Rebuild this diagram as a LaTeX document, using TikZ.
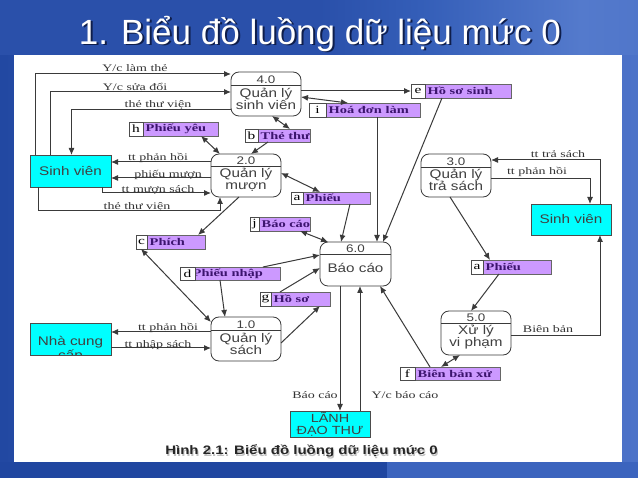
\documentclass[tikz,border=0pt]{standalone}
\usepackage{fontspec}
\usetikzlibrary{arrows.meta}
\setmainfont{Liberation Sans}
\newfontfamily\lserif[FakeStretch=1.4]{Liberation Serif}
\newfontfamily\lsans[FakeStretch=1.22]{Liberation Sans}
\definecolor{cyanbox}{HTML}{00FFFF}
\definecolor{storepurple}{HTML}{CC99FF}
\definecolor{ink}{HTML}{3A3A3A}
\definecolor{bandA}{HTML}{2A50AA}
\definecolor{bandB}{HTML}{345EB8}
\definecolor{bandC}{HTML}{547ACC}
\definecolor{bandD}{HTML}{4C72C8}
\definecolor{bandE}{HTML}{3A64C0}
\definecolor{sideL}{HTML}{2248A2}
\definecolor{sideR}{HTML}{4C72C8}
\definecolor{footL}{HTML}{2046A0}
\definecolor{footR}{HTML}{3C64BE}
\definecolor{titleshadowc}{HTML}{0F1E4B}
\definecolor{storeink}{HTML}{3C146E}
\pgfdeclarehorizontalshading{topband}{100bp}{
  color(0bp)=(bandA);
  color(25bp)=(bandA);
  color(50bp)=(bandA);
  color(58bp)=(bandB);
  color(70.5bp)=(bandC);
  color(80bp)=(bandD);
  color(84.6bp)=(bandE);
  color(100bp)=(bandE)}
\tikzset{
  x=1pt,y=-1pt,
  flow/.style={draw=ink,line width=1pt,-{Latex[length=7pt,width=6pt]}},
  flowboth/.style={draw=ink,line width=1pt,{Latex[length=7pt,width=6pt]}-{Latex[length=7pt,width=6pt]}},
  plainline/.style={draw=ink,line width=1pt},
  flowlabel/.style={font=\lserif\fontsize{10}{10}\selectfont,text=black!80,inner sep=0pt},
  boxbase/.style={inner sep=0pt,outer sep=0pt,anchor=north west},
  extbox/.style={boxbase,draw=black!70,fill=cyanbox,line width=0.8pt,align=center,font=\lsans\fontsize{12.5}{12.5}\selectfont,text=black!75},
  procbox/.style={boxbase,draw=ink,fill=white,line width=0.8pt,rounded corners=8pt},
  proctext/.style={inner sep=0pt,align=center,font=\lsans\fontsize{12.5}{12}\selectfont,text=black!75},
  procnum/.style={inner sep=0pt,font=\lsans\fontsize{11}{11}\selectfont,text=black!75},
  storebox/.style={boxbase,draw=black!60,fill=storepurple,line width=0.7pt},
  storecell/.style={boxbase,draw=black!70,fill=white,line width=0.7pt,font=\lserif\fontsize{11}{11}\selectfont},
  storetext/.style={inner sep=0pt,anchor=west,font=\lserif\bfseries\fontsize{10.3}{10}\selectfont,text=storeink},
}
% name, x1, y1, x2, y2, divider y, number, label
\newcommand\procnode[8]{%
  \node[procbox,minimum width=#4pt-#2pt,minimum height=#5pt-#3pt] (#1) at (#2,#3) {};
  \draw[plainline,line width=0.8pt] (#2,#6) -- (#4,#6);
  \node[procnum] (#1n) at ({(#2+#4)/2},{#6-5}) {#7};
  \node[proctext] (#1t) at ({(#2+#4)/2},{(#6+#5)/2-2}) {#8};
}
% name, x1, y1, x2, y2, cell x, letter, text
\newcommand\storenode[8]{%
  \node[storebox,minimum width=#4pt-#2pt,minimum height=#5pt-#3pt] (#1) at (#2,#3) {};
  \node[storetext] (#1t) at ({#6+2.5},{(#3+#5)/2}) {#8};
  \node[storecell,minimum width=#6pt-#2pt,minimum height=#5pt-#3pt] (#1c) at (#2,#3) {#7};
}
\begin{document}
\begin{tikzpicture}
\useasboundingbox (0,0) rectangle (638,478);
% slide background
\shade[left color=sideL,right color=sideR] (0,0) rectangle (638,478);
\shade[shading=topband] (0,0) rectangle (638,55);
\fill[footL] (0,462) rectangle (387,478);
\fill[footR] (387,462) rectangle (638,478);
\fill[white] (14,55) rectangle (622,462);
% title
\node[font=\fontsize{35}{35}\selectfont,text=titleshadowc,inner sep=0pt] (titleshadow) at (322,35.5) {1. Biểu đồ luồng dữ liệu mức 0};
\node[font=\fontsize{35}{35}\selectfont,text=white,inner sep=0pt] (title) at (320,34) {1. Biểu đồ luồng dữ liệu mức 0};
% external entities
\node[extbox,minimum width=81pt,minimum height=32pt] (sv1) at (30,155) {\raisebox{-3pt}{Sinh viên}};
\node[extbox,minimum width=80pt,minimum height=31pt] (sv2) at (531,204) {\raisebox{-3pt}{Sinh viên}};
\node[extbox,minimum width=81pt,minimum height=32pt] (ncc) at (30,323) {};
\node[proctext,font=\lsans\fontsize{12.5}{12.5}\selectfont] (ncct) at (70.5,342.5) {Nhà cung};
\begin{scope}
\clip (30,323) rectangle (111,355);
\node[proctext,font=\lsans\fontsize{12.5}{12.5}\selectfont] (ncct2) at (70.5,356) {cấp};
\end{scope}
\node[extbox,minimum width=80pt,minimum height=26pt,font=\lsans\fontsize{11.8}{12}\selectfont] (ld) at (290,411) {LÃNH\\ĐẠO THƯ};
% processes
\procnode{pa}{231}{72}{301}{116}{85}{4.0}{Quản lý\\sinh viên}
\procnode{pb}{211}{154}{281}{197}{166}{2.0}{Quản lý\\mượn}
\procnode{pc}{211}{317}{281}{361}{330}{1.0}{Quản lý\\sách}
\procnode{pd}{320}{242}{391}{286}{254}{6.0}{\raisebox{-4.5pt}{Báo cáo}}
\procnode{pe}{421}{154}{491}{197}{167}{3.0}{Quản lý\\trả sách}
\procnode{pf}{441}{311}{511}{355}{323}{5.0}{Xử lý\\vi phạm}
% data stores
\storenode{sh}{129}{122}{218}{136}{143}{h}{Phiếu yêu}
\storenode{sb}{245}{129}{310}{142}{258}{b}{Thẻ thư}
\storenode{se}{411}{84}{511}{98}{425}{e}{Hồ sơ sinh}
\storenode{si}{309}{103}{420}{117}{326}{i}{Hoá đơn làm}
\storenode{sa}{291}{192}{370}{204}{303}{a}{Phiếu}
\storenode{sj}{250}{217}{310}{231}{259}{j}{Báo cáo}
\storenode{sc}{136}{235}{205}{249}{147}{c}{Phích}
\storenode{sd}{180}{267}{280}{280}{195}{d}{\hspace*{-5pt}Phiếu nhập}
\storenode{sg}{260}{292}{330}{306}{271}{g}{Hồ sơ}
\storenode{sk}{471}{260}{551}{274}{483}{a}{Phiếu}
\storenode{sf}{400}{367}{500}{380}{415}{f}{Biên bản xử}
% flows: Sinh vien <-> 4.0
\coordinate (pa1) at (pa.west |- 0,74);
\draw[flow] ([xshift=5pt]sv1.north west) |- (pa1);
\coordinate (pa2) at (pa.west |- 0,92);
\draw[flow] ([xshift=20.5pt]sv1.north west) |- (pa2);
\coordinate (pa3) at (pa.west |- 0,110);
\draw[flow] (pa3) -| ([xshift=41.5pt]sv1.north west);
\node[flowlabel] (l1) at (135,68) {Y/c làm thẻ};
\node[flowlabel] (l2) at (135,87) {Y/c sửa đổi};
\node[flowlabel] (l3) at (158,105) {thẻ thư viện};
% Sinh vien <-> 2.0
\draw[flow] (pb.west |- 0,162) -- (sv1.east |- 0,162);
\draw[flow] (pb.west |- 0,178) -- (sv1.east |- 0,178);
\coordinate (pb3) at (pb.west |- 0,193);
\draw[flow] ([xshift=-8.5pt]sv1.south east) |- (pb3);
\coordinate (b4) at (220,211);
\draw[plainline] ([xshift=8.5pt]sv1.south west) |- (b4);
\draw[flow] (b4) -- (b4 |- pb.south);
\node[flowlabel] (l4) at (158,158) {tt phản hồi};
\node[flowlabel] (l5) at (168,175) {phiếu mượn};
\node[flowlabel] (l6) at (158,190) {tt mượn sách};
\node[flowlabel] (l7) at (137,207) {thẻ thư viện};
% stores <-> processes
\draw[flowboth] ([xshift=41pt]pa.south west) -- ([xshift=45pt]sb.north west);
\draw[flowboth] ([xshift=72pt]sh.south west) -- ([xshift=9pt]pb.north west);
\draw[flow] ([xshift=23pt]sb.south west) -- ([xshift=40pt]pb.north west);
\draw[flowboth] ([yshift=-19pt]pb.north east) -- ([xshift=29pt]sa.north west);
\draw[flow] ([xshift=28pt]pb.south west) -- ([xshift=62pt]sc.north west);
\draw[flowboth] ([xshift=5pt]sc.south west) -- ([yshift=-5pt]pc.north west);
\draw[flow] ([xshift=40pt]sd.south west) -- ([xshift=14pt]pc.north west);
\draw[flow] ([xshift=83pt]sd.north west) -- ([yshift=-13pt]pd.north west);
\draw[flow] ([xshift=20pt]sg.north west) -- ([yshift=-26pt]pd.north west);
\draw[flow] ([yshift=-26pt]pc.north east) -- ([xshift=60pt]sg.south west);
\draw[flowboth] ([xshift=50pt]sj.south west) -- ([xshift=8pt]pd.north west);
\draw[flow] ([xshift=59pt]sa.south west) -- ([xshift=21pt]pd.north west);
\draw[flow] ([xshift=68pt]si.south west) -- ([xshift=57pt]pd.north west);
\draw[flow] ([xshift=31pt]se.south west) -- ([xshift=63pt]pd.north west);
\draw[flow] (pa.east |- 0,91) -- (se.west |- 0,91);
\draw[flowboth] ([yshift=-25pt]pa.north east) -- ([xshift=39pt]si.north west);
% 3.0 and the right-hand Sinh vien
\coordinate (pe1) at (pe.east |- 0,160);
\draw[flow] ([xshift=69pt]sv2.north west) |- (pe1);
\coordinate (pe2) at (pe.east |- 0,179);
\draw[flow] (pe2) -| ([xshift=59pt]sv2.north west);
\node[flowlabel] (l8) at (558,154) {tt trả sách};
\node[flowlabel] (l9) at (537,172) {tt phản hồi};
\draw[flow] ([xshift=29pt]pe.south west) -- ([xshift=19pt]sk.north west);
\draw[flow] ([xshift=28pt]sk.south west) -- ([xshift=30pt]pf.north west);
\coordinate (pf1) at (pf.east |- 0,336);
\draw[flow] (pf1) -| ([xshift=69pt]sv2.south west);
\node[flowlabel] (l10) at (548,329) {Biên bản};
\draw[flowboth] ([xshift=19pt]pf.south west) -- ([xshift=41pt]sf.north west);
\draw[flow] ([xshift=30pt]sf.north west) -- ([xshift=60pt]pd.south west);
% 6.0 <-> Lanh dao
\draw[flow] ([xshift=20pt]pd.south west) -- ([xshift=50pt]ld.north west);
\draw[flow] ([xshift=70pt]ld.north west) -- ([xshift=40pt]pd.south west);
\node[flowlabel] (l11) at (315,395) {Báo cáo};
\node[flowlabel] (l12) at (405,395) {Y/c báo cáo};
% Nha cung cap <-> 1.0
\draw[flow] (pc.west |- 0,332) -- (ncc.east |- 0,332);
\draw[flow] (ncc.east |- 0,348) -- (pc.west |- 0,348);
\node[flowlabel] (l13) at (168,328) {tt phản hồi};
\node[flowlabel] (l14) at (158,345) {tt nhập sách};
% caption
\node[font=\lsans\bfseries\fontsize{12.3}{12}\selectfont,text=black!25,inner sep=0pt] (capshadow) at (302.5,452.5) {Hình 2.1: Biểu đồ luồng dữ liệu mức 0};
\node[font=\lsans\bfseries\fontsize{12.3}{12}\selectfont,text=black!85,inner sep=0pt] (caption) at (301.5,451) {Hình 2.1: Biểu đồ luồng dữ liệu mức 0};
\end{tikzpicture}
\end{document}
